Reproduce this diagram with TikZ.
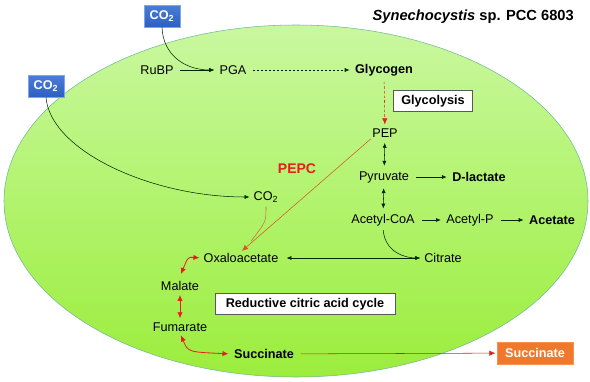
\documentclass[tikz,border=0pt]{standalone}
\usepackage{fontspec}
\setmainfont{Liberation Sans}
\usepackage{xcolor}
\usetikzlibrary{arrows.meta,positioning}
\definecolor{cellline}{RGB}{110,185,150}
\definecolor{celltop}{RGB}{225,251,210}
\definecolor{cellmid}{RGB}{185,245,125}
\definecolor{cellbright}{RGB}{155,237,60}
\definecolor{cellbot}{RGB}{210,248,160}
\definecolor{boxblue}{RGB}{45,95,195}
\definecolor{boxbluetop}{RGB}{75,125,215}
\definecolor{boxorange}{RGB}{240,120,45}
\definecolor{pathred}{RGB}{230,30,30}
\definecolor{pepcline}{RGB}{215,85,45}
\definecolor{co2line}{RGB}{195,115,55}
\pgfdeclareverticalshading{cellshade}{100bp}{color(0bp)=(cellbot); color(10bp)=(cellbright); color(25bp)=(cellbright); color(58bp)=(cellmid); color(100bp)=(celltop)}

\begin{document}
\begin{tikzpicture}[
    x=0.75pt, y=-0.75pt,
    font=\fontsize{9.5}{11}\selectfont,
    met/.style={inner sep=1pt},
    prod/.style={inner sep=1pt, font=\fontsize{9.5}{11}\selectfont\bfseries},
    co2box/.style={draw=boxbluetop!70!white, top color=boxbluetop, bottom color=boxblue, text=white, font=\fontsize{9.5}{11}\selectfont\bfseries, minimum width=27pt, minimum height=16.5pt, inner sep=0pt},
    outbox/.style={draw=boxorange!80!white, fill=boxorange, text=white, font=\fontsize{9.5}{11}\selectfont\bfseries, minimum width=57pt, minimum height=16.5pt, inner sep=0pt},
    labelbox/.style={draw=black!65, fill=white, font=\fontsize{9.5}{11}\selectfont\bfseries, minimum height=16pt, inner sep=0pt},
    arrow/.style={-{Latex[length=3.6pt,width=3pt]}, black!85!green},
    gap/.style={shorten <=4pt, shorten >=3pt},
    twoway/.style={{Latex[length=3.6pt,width=3pt]}-{Latex[length=3.6pt,width=3pt]}, black!85!green},
    redarrow/.style={-{Latex[length=4.5pt,width=4pt]}, pathred, semithick},
    redtwoway/.style={{Latex[length=4.5pt,width=4pt]}-{Latex[length=4.5pt,width=4pt]}, pathred, semithick}
]
\useasboundingbox (0,0) rectangle (590,382);

% Cell
\path[draw=cellline, shading=cellshade] (296,201) ellipse [x radius=219pt, y radius=132pt];

\node[anchor=east, inner sep=0pt, font=\fontsize{11}{13}\selectfont\bfseries] (title) at (574,17) {\textit{Synechocystis} sp. PCC 6803};

% Carbon fixation
\node[co2box] (co2top) at (162,16) {CO\textsubscript{2}};
\node[co2box] (co2left) at (46,86) {CO\textsubscript{2}};
\node[met] (rubp) at (157,70) {RuBP};
\node[met] (pga) at (233,70) {PGA};
\node[prod] (glycogen) at (384,70) {Glycogen};
\node[labelbox, minimum width=59pt] (glycolysis) at (433,101) {Glycolysis};

% Glycolysis and fermentation
\node[met] (pep) at (385,133) {PEP};
\node[met] (pyruvate) at (384,177) {Pyruvate};
\node[prod] (dlactate) at (479,177) {D-lactate};
\node[met] (acetylcoa) at (383,220) {Acetyl-CoA};
\node[met] (acetylp) at (470,220) {Acetyl-P};
\node[prod] (acetate) at (552,220) {Acetate};
\node[met] (citrate) at (443,258) {Citrate};

% Reductive branch
\node[met] (co2in) at (266,197) {CO\textsubscript{2}};
\node[inner sep=0pt, text=pathred, font=\fontsize{10.5}{12}\selectfont\bfseries] (pepc) at (297,169) {PEPC};
\node[met] (oaa) at (241,258) {Oxaloacetate};
\node[met] (malate) at (180,286) {Malate};
\node[met] (fumarate) at (180,327) {Fumarate};
\node[prod] (succ) at (264,354) {Succinate};
\node[labelbox, minimum width=135pt] (rtca) at (305,304) {Reductive citric acid cycle};
\node[outbox] (succout) at (535,353) {Succinate};

% Connectors
\draw[arrow, gap] (rubp) -- (pga);
\draw[arrow, shorten >=3pt] (co2top.south) .. controls (163,55) and (185,70) .. (pga.west);
\draw[arrow, gap, dashed, dash pattern=on 1.5pt off 1.5pt] (pga) -- (glycogen);
\draw[redarrow, thin, shorten <=3pt, shorten >=2pt, dashed, dash pattern=on 2pt off 1.5pt] (glycogen) -- (pep);
\draw[twoway, shorten <=3pt, shorten >=3pt] (pep) -- (pyruvate);
\draw[twoway, shorten <=3pt, shorten >=3pt] (pyruvate) -- (acetylcoa);
\draw[arrow, gap] (pyruvate) -- (dlactate);
\draw[arrow, gap] (acetylcoa) -- (acetylp);
\draw[arrow, gap] (acetylp) -- (acetate);
\draw[arrow, shorten <=2pt, shorten >=2pt] (acetylcoa.south) .. controls (385,252) and (405,258) .. (citrate.west);
\draw[twoway, shorten <=5pt, shorten >=2pt] (oaa) -- (citrate);
\draw[arrow, shorten >=2pt] (co2left.south) .. controls (50,150) and (150,197) .. (co2in.west);
\draw[co2line] ([yshift=-2pt]co2in.south) .. controls (266,222) .. (251,241);
\draw[-{Latex[length=4.5pt,width=4pt]}, pepcline, shorten >=1pt] (pep.south west) -- (oaa.north);
\draw[redtwoway, shorten <=2pt] (oaa.west) .. controls (188,257) .. (181,274);
\draw[redtwoway, shorten <=2pt, shorten >=2pt] (malate) -- (fumarate);
\draw[redtwoway, shorten <=2pt, shorten >=3pt] (fumarate.south) .. controls (188,352) .. (succ.west);
\draw[redarrow, thin, shorten <=4pt, shorten >=1pt] (succ) -- (succout);

\end{tikzpicture}
\end{document}
